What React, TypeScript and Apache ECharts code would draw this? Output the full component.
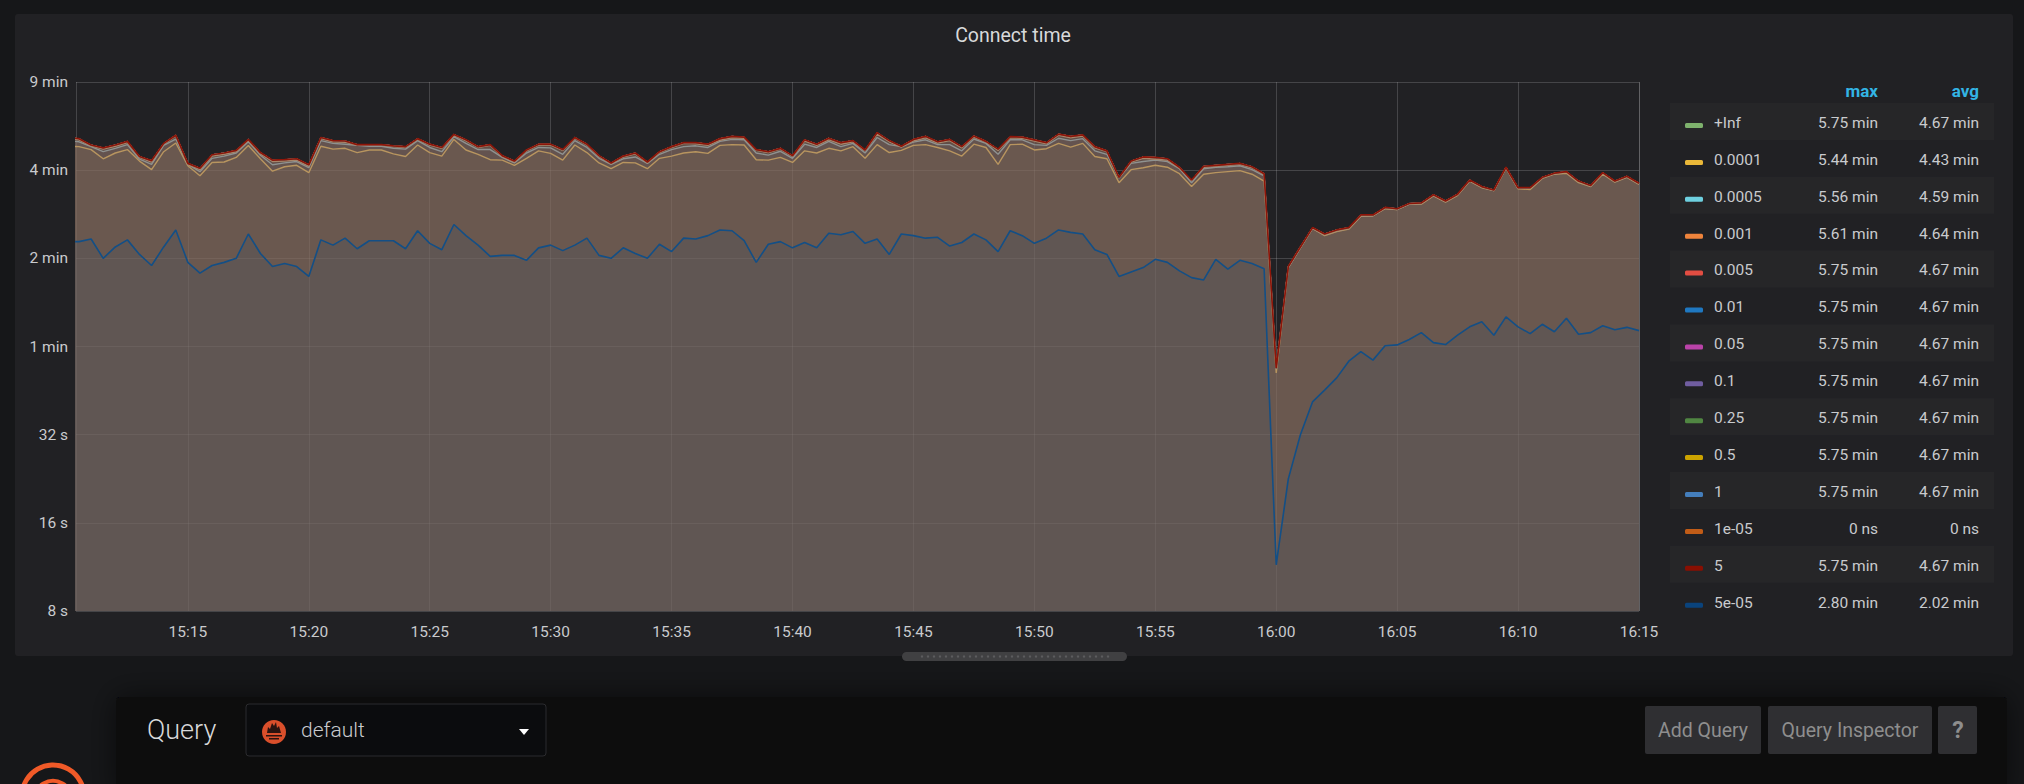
import React, { useEffect, useRef } from "react";
import * as echarts from "echarts";

const seriesNames = ["+Inf", "0.0001", "0.0005", "0.001", "0.005", "0.01", "0.05", "0.1", "0.25", "0.5", "1", "1e-05", "5", "5e-05"];
const seriesColors = ["#7EB26D", "#EAB839", "#6ED0E0", "#EF843C", "#E24D42", "#1F78C1", "#BA43A9", "#705DA0", "#508642", "#CCA300", "#447EBC", "#C15C17", "#890F02", "#0A437C"];
// Colour of each drawn line once the later translucent fills have covered it.
const lineColors = ["#7EB26D", "#b8955f", "#8f9290", "#a8866a", "#E24D42", "#1F78C1", "#BA43A9", "#705DA0", "#508642", "#CCA300", "#447EBC", "#C15C17", "#8f1508", "#134f86"];
const lineWidths = [1, 1.4, 1.4, 1.4, 1, 1, 1, 1, 1, 1, 1, 1, 1.7, 1.6];
const legendMax = ["5.75 min", "5.44 min", "5.56 min", "5.61 min", "5.75 min", "5.75 min", "5.75 min", "5.75 min", "5.75 min", "5.75 min", "5.75 min", "0 ns", "5.75 min", "2.80 min"];
const legendAvg = ["4.67 min", "4.43 min", "4.59 min", "4.64 min", "4.67 min", "4.67 min", "4.67 min", "4.67 min", "4.67 min", "4.67 min", "4.67 min", "0 ns", "4.67 min", "2.02 min"];

// Seconds, one value every 30 s from 15:10:00 to 16:15:00.
const topValues = [
  331, 328, 312, 305, 312, 321, 285, 276, 316, 337, 270, 260, 289, 293, 299, 326, 294, 277, 278, 280, 267, 331, 323, 322, 313, 313, 313, 310, 308, 328, 314,
  306, 339, 325, 308, 313, 287, 275, 300, 314, 314, 301, 331, 314, 287, 271, 286, 293, 273, 296, 308, 318, 318, 314, 328, 334, 332, 301, 296, 304, 287,
  325, 314, 329, 318, 323, 300, 344, 323, 309, 326, 334, 320, 326, 308, 335, 321, 302, 333, 332, 325, 318, 340, 334, 338, 308, 298, 242, 275, 284, 283,
  280, 262, 237, 264, 266, 268, 270, 263, 249, 54, 120, 140, 163, 155, 160, 163, 180, 180, 191, 189, 197, 198, 211, 201, 212, 237, 225, 219, 262, 223, 223, 242, 250, 253, 235, 227, 251, 235, 244, 231,
];
const values0001 = [
  309, 308, 301, 280, 293, 301, 275, 257, 296, 317, 265, 245, 272, 273, 283, 311, 280, 254, 263, 266, 251, 309, 302, 304, 294, 300, 300, 291, 285, 312, 294,
  286, 326, 300, 290, 278, 277, 266, 281, 298, 292, 277, 312, 294, 271, 259, 272, 271, 259, 281, 286, 293, 296, 292, 311, 313, 312, 278, 277, 283, 272,
  298, 293, 304, 298, 308, 281, 313, 294, 299, 311, 313, 306, 298, 286, 314, 306, 268, 313, 314, 300, 303, 316, 307, 316, 285, 280, 232, 257, 261, 266,
  262, 249, 225, 248, 251, 253, 255, 248, 235, 52, 119, 139, 162, 153, 158, 161, 178, 179, 189, 188, 196, 196, 209, 199, 210, 235, 223, 218, 260, 221, 220, 240, 248, 250, 232, 225, 248, 233, 242, 229,
];
const values0005 = [
  323, 320, 308, 296, 304, 313, 279, 268, 311, 327, 268, 253, 281, 286, 293, 320, 288, 267, 271, 274, 261, 323, 316, 314, 311, 309, 309, 304, 302, 323, 306,
  296, 333, 316, 301, 301, 283, 271, 293, 306, 305, 290, 323, 306, 281, 268, 280, 284, 270, 290, 301, 308, 310, 306, 321, 326, 325, 293, 288, 297, 281,
  314, 306, 321, 308, 316, 293, 331, 313, 308, 319, 325, 313, 313, 298, 327, 316, 290, 325, 325, 313, 311, 329, 323, 328, 298, 290, 241, 270, 274, 277,
  274, 259, 232, 259, 262, 263, 265, 257, 245, 53.6, 119, 139, 162, 154, 159, 162, 179, 179, 190, 188, 196, 197, 210, 200, 211, 236, 224, 218, 261, 222, 222, 241, 249, 252, 234, 226, 250, 234, 243, 230,
];
const values001 = [
  329, 325, 310, 302, 309, 318, 283, 273, 314, 335, 268, 257, 286, 290, 296, 324, 291, 274, 275, 277, 264, 328, 320, 319, 311, 311, 311, 308, 306, 326, 312,
  304, 337, 322, 306, 311, 285, 273, 298, 312, 312, 299, 329, 312, 285, 269, 284, 291, 271, 294, 306, 316, 315, 311, 324, 330, 329, 299, 294, 302, 285,
  322, 311, 325, 314, 320, 298, 340, 320, 307, 322, 330, 317, 323, 305, 332, 319, 299, 330, 329, 322, 315, 337, 330, 335, 305, 296, 241, 273, 281, 279,
  277, 260, 236, 262, 264, 266, 268, 261, 247, 54, 120, 140, 162, 154, 159, 162, 179, 179, 190, 188, 196, 197, 210, 200, 211, 236, 224, 218, 261, 222, 222, 241, 249, 252, 234, 226, 250, 234, 243, 230,
];
const values5e05 = [
  146, 146, 149, 128, 140, 148, 132, 121, 140, 160, 124, 114, 121, 124, 128, 155, 133, 120, 123, 120, 111, 148, 142, 150, 138, 147, 147, 147, 138, 159, 144,
  137, 167, 153, 142, 130, 131, 131, 126, 139, 142, 136, 142, 150, 131, 128, 139, 133, 128, 143, 135, 150, 149, 153, 160, 159, 147, 124, 143, 146, 139,
  145, 139, 156, 154, 158, 144, 149, 132, 155, 153, 150, 151, 141, 145, 155, 148, 135, 159, 153, 144, 150, 160, 157, 155, 137, 132, 111, 115, 119, 127,
  124, 116, 110, 108, 127, 117.5, 126, 123, 118, 11.5, 22.6, 32, 41.4, 45.4, 50, 57, 61.5, 57.5, 64.4, 64.8, 67.6, 71.4, 66, 65, 70, 74.7, 77.7, 69.9, 80.8, 74.7, 70.8, 76.2, 71.9, 79.9, 70.5, 71.4, 75.3, 73, 74.4, 72.5,
];
const values1e05: number[] = [];

const seriesValues: Record<string, number[]> = {
  "+Inf": topValues, "0.0001": values0001, "0.0005": values0005, "0.001": values001, "0.005": topValues, "0.01": topValues,
  "0.05": topValues, "0.1": topValues, "0.25": topValues, "0.5": topValues, "1": topValues, "1e-05": values1e05, "5": topValues, "5e-05": values5e05,
};

const FONT = "Roboto";
const TEXT = "#c9cbce";
const t0 = new Date(2019, 0, 1, 15, 10, 0).getTime();
const toPoints = (vals: number[]) => vals.map((v, i) => [t0 + i * 30000, v]);

function txt(x: number, y: number, text: string, size: number, fill: string, align = "left", weight: any = 400, extra: any = {}) {
  return { type: "text", x, y, z: 10, style: { text, fontFamily: FONT, fontSize: size, fill, align, verticalAlign: "middle", fontWeight: weight, ...extra } };
}
function box(x: number, y: number, w: number, h: number, fill: string, r = 0, extra: any = {}, z = -5) {
  return { type: "rect", x, y, z, shape: { x: 0, y: 0, width: w, height: h, r }, style: { fill, ...extra } };
}

function buildGraphics() {
  const g: any[] = [];
  // panels
  g.push(box(15, 14, 1998, 642, "#212124", 3));
  g.push(box(116, 697, 1891, 100, "#09090b", 4, { shadowBlur: 30, shadowColor: "rgba(0,0,0,0.55)" }));
  // scrollbar
  g.push(box(902, 652, 225, 9, "#404042", 4.5, {}, 8));
  for (let i = 0; i < 32; i++) {
    g.push({ type: "circle", z: 9, shape: { cx: 922 + i * 6, cy: 656.5, r: 1.2 }, style: { fill: "#5c5c5e" } });
  }
  // legend
  g.push(txt(1878, 91, "max", 17, "#33b5e5", "right", 700));
  g.push(txt(1979, 91, "avg", 17, "#33b5e5", "right", 700));
  seriesNames.forEach((name, i) => {
    const top = 103 + i * 36.9;
    if (i % 2 === 0) g.push(box(1670, top, 324, 37, "#262628", 0, {}, 1));
    g.push(box(1685, top + 20, 18, 5, seriesColors[i], 1.5, {}, 9));
    g.push(txt(1714, top + 19.8, name, 15.5, TEXT));
    g.push(txt(1878, top + 19.8, legendMax[i], 15.5, TEXT, "right"));
    g.push(txt(1979, top + 19.8, legendAvg[i], 15.5, TEXT, "right"));
  });
  // query row
  g.push(txt(147, 730, "Query", 27, "#d8d9da", "left", 300));
  g.push(box(246, 704, 300, 52, "#0b0c0e", 3, { stroke: "#2b2b2e", lineWidth: 1 }, 2));
  g.push({ type: "ellipse", z: 5, shape: { cx: 274, cy: 732, rx: 12, ry: 12 }, style: { fill: "#d94f2b" } });
  g.push({ type: "polygon", z: 6, shape: { points: [[267, 733], [268, 727], [270, 729], [272, 723], [274, 726], [276, 722], [277, 728], [279, 726], [281, 733]] }, style: { fill: "#2a1410" } });
  g.push(box(266, 735, 16, 1.5, "#2a1410", 0, {}, 6));
  g.push(box(269, 738, 10, 1.5, "#2a1410", 0, {}, 6));
  g.push(txt(301, 729.5, "default", 21, TEXT, "left", 300));
  g.push({ type: "polygon", z: 6, shape: { points: [[519, 729], [529, 729], [524, 735]] }, style: { fill: "#ffffff" } });
  // buttons
  g.push(box(1645, 706, 116, 48, "#2f2f32", 2, {}, 2));
  g.push(txt(1703, 730.5, "Add Query", 19.5, "#8e8e8e", "center", 400));
  g.push(box(1768, 706, 164, 48, "#2f2f32", 2, {}, 2));
  g.push(txt(1850, 730.5, "Query Inspector", 19.5, "#8e8e8e", "center", 400));
  g.push(box(1938, 706, 39, 48, "#2f2f32", 2, {}, 2));
  g.push(txt(1958, 730, "?", 23, "#8e8e8e", "center", 700));
  // logo
  g.push({ type: "circle", z: 3, shape: { cx: 53, cy: 796, r: 31 }, style: { fill: "none", stroke: "#f05a28", lineWidth: 5 } });
  g.push({ type: "circle", z: 3, shape: { cx: 53, cy: 800, r: 19 }, style: { fill: "none", stroke: "#f05a28", lineWidth: 4 } });
  return g;
}

export default function App() {
  const ref = useRef<HTMLDivElement>(null);
  useEffect(() => {
    document.body.style.margin = "0";
    document.body.style.background = "#161719";
    const chart = echarts.init(ref.current!, undefined, { renderer: "svg" });
    chart.setOption({
      animation: false,
      backgroundColor: "#161719",
      title: {
        text: "Connect time",
        left: 1008,
        top: 30,
        textAlign: "center",
        textVerticalAlign: "middle",
        textStyle: { color: "#d8d9da", fontFamily: FONT, fontSize: 19.5, fontWeight: 400 },
      },
      grid: { left: 76, top: 82, width: 1563, height: 529, containLabel: false },
      xAxis: {
        type: "time",
        min: t0 + 22500,
        max: t0 + 130 * 30000,
        splitNumber: 10,
        minInterval: 360000,
        maxInterval: 360000,
        axisLine: { show: false },
        axisTick: { show: false },
        axisLabel: {
          color: TEXT, fontFamily: FONT, fontSize: 15.5, margin: 13, showMinLabel: false, hideOverlap: false,
          formatter: (v: number) => {
            const d = new Date(v);
            return `${String(d.getHours()).padStart(2, "0")}:${String(d.getMinutes()).padStart(2, "0")}`;
          },
        },
        splitLine: { show: true, lineStyle: { color: "rgba(200,200,200,0.22)", width: 1 } },
      },
      yAxis: {
        type: "log",
        logBase: 2,
        min: 8,
        max: 512,
        splitNumber: 6,
        axisLine: { show: false },
        axisTick: { show: false },
        axisLabel: {
          color: TEXT, fontFamily: FONT, fontSize: 15.5, margin: 8,
          formatter: (v: number) => (v < 60 ? `${Math.round(v)} s` : `${Math.round(v / 60)} min`),
        },
        splitLine: { show: true, lineStyle: { color: "rgba(200,200,200,0.22)", width: 1 } },
      },
      series: seriesNames.map((name, i) => ({
        name,
        type: "line",
        data: toPoints(seriesValues[name]),
        showSymbol: false,
        smooth: false,
        color: seriesColors[i],
        lineStyle: { color: lineColors[i], width: lineWidths[i] },
        areaStyle: { color: seriesColors[i], opacity: 0.1, origin: "start" },
        z: 2,
      })),
      graphic: { elements: buildGraphics() },
    });
    return () => chart.dispose();
  }, []);
  return <div ref={ref} style={{ position: "fixed", left: 0, top: 0, width: 2024, height: 784 }} />;
}
